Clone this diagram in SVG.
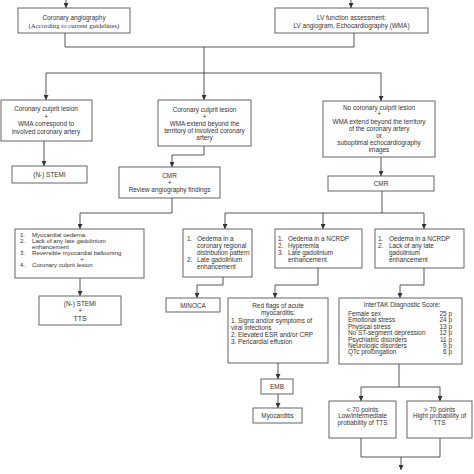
<svg xmlns="http://www.w3.org/2000/svg" width="474" height="474" viewBox="0 0 474 474">
<defs>
<marker id="ah" markerUnits="userSpaceOnUse" markerWidth="5" markerHeight="5" refX="5" refY="2.5" orient="auto"><path d="M0,0 L5,2.5 L0,5 z" fill="#333"/></marker>
<style>
.b{fill:#fff;stroke:#555;stroke-width:0.9}
.c{fill:none;stroke:#444;stroke-width:0.9}
.a{fill:none;stroke:#444;stroke-width:0.9;marker-end:url(#ah)}
text{font-family:"Liberation Sans",Arial,sans-serif;font-size:6.4px;fill:#333}
.m{text-anchor:middle}
.e{text-anchor:end}
.s{font-family:"Liberation Serif","Times New Roman",serif;font-size:6.8px}
.t{font-size:6.1px}
</style>
</defs>
<rect width="474" height="474" fill="#fff"/>
<g id="connectors">
<path class="a" d="M66,0 V8"/>
<path class="a" d="M351,0 V8"/>
<path class="c" d="M65,33 V47 H354 V33"/>
<path class="c" d="M204,47 V73"/>
<path class="c" d="M46,73 H381"/>
<path class="a" d="M46,73 V100"/>
<path class="a" d="M204,73 V100"/>
<path class="a" d="M381,73 V101"/>
<path class="a" d="M44,141 V166"/>
<path class="a" d="M204,146 V155 H172 V167"/>
<path class="a" d="M381,157 V176"/>
<path class="a" d="M172,198 V213 H80 V229"/>
<path class="c" d="M382,191 V213"/>
<path class="c" d="M225,213 H424"/>
<path class="a" d="M225,213 V229"/>
<path class="a" d="M323,213 V229"/>
<path class="a" d="M424,213 V229"/>
<path class="a" d="M80,278 V296"/>
<path class="a" d="M223,277 V285 H197 V298"/>
<path class="a" d="M318,268 V285 H275 V298"/>
<path class="a" d="M424,268 V285 H400 V298"/>
<path class="a" d="M278,363 V379"/>
<path class="a" d="M278,394 V408"/>
<path class="c" d="M399,364 V387"/>
<path class="c" d="M361,387 H440"/>
<path class="a" d="M361,387 V401"/>
<path class="a" d="M440,387 V401"/>
<path class="c" d="M361,438 V457 H440 V438"/>
<path class="a" d="M401,457 V470"/>
</g>
<g id="n1"><rect class="b" x="18" y="8" width="112" height="25"/>
<text class="m" x="74" y="19.5">Coronary angiography</text>
<text class="m s" x="74" y="27.5">(According to current guidelines)</text></g>
<g id="n2"><rect class="b" x="275" y="8" width="153" height="25"/>
<text class="m" x="351.5" y="19.5">LV function assessment:</text>
<text class="m" x="351.5" y="27.5">LV angiogram, Echocardiography (WMA)</text></g>
<g id="n3"><rect class="b" x="1" y="100" width="91" height="41"/>
<text class="m" x="46" y="111">Coronary culprit lesion</text>
<text class="m" x="46" y="118.5">+</text>
<text class="m" x="46" y="126">WMA correspond to</text>
<text class="m" x="46" y="134">involved coronary artery</text></g>
<g id="n4"><rect class="b" x="158" y="100" width="93" height="46"/>
<text class="m" x="204.5" y="111.5">Coronary culprit lesion</text>
<text class="m" x="204.5" y="119">+</text>
<text class="m" x="204.5" y="125.5">WMA extend beyond the</text>
<text class="m" x="204.5" y="132.5">territory of involved coronary</text>
<text class="m" x="204.5" y="139.5">artery</text></g>
<g id="n5"><rect class="b" x="323" y="101" width="112" height="56"/>
<text class="m" x="379" y="109.5">No coronary culprit lesion</text>
<text class="m" x="379" y="116">+</text>
<text class="m" x="379" y="124">WMA extend beyond the territory</text>
<text class="m" x="379" y="130.5">of the coronary artery</text>
<text class="m" x="379" y="138">or</text>
<text class="m" x="379" y="145">suboptimal echocardiography</text>
<text class="m" x="379" y="152">images</text></g>
<g id="n6"><rect class="b" x="12" y="166" width="75" height="17"/>
<text class="m" x="49.5" y="177">(N-) STEMI</text></g>
<g id="n7"><rect class="b" x="119" y="167" width="101" height="31"/>
<text class="m" x="169.5" y="178">CMR</text>
<text class="m" x="169.5" y="185">+</text>
<text class="m" x="169.5" y="191.5">Review angiography findings</text></g>
<g id="n8"><rect class="b" x="328" y="176" width="106" height="15"/>
<text class="m" x="381" y="186">CMR</text></g>
<g id="n9"><rect class="b" x="15" y="229" width="129" height="49"/>
<text class="t" x="20" y="236.5">1.</text><text class="t" x="32" y="236.5">Myocardial oedema</text>
<text class="t" x="20" y="242.8">2.</text><text class="t" x="32" y="242.8">Lack of any late gadolinium</text>
<text class="t" x="32" y="249">enhancement</text>
<text class="t" x="20" y="255.2">3.</text><text class="t" x="32" y="255.2">Reversible myocardial ballooning</text>
<text class="m t" x="82" y="261">+</text>
<text class="t" x="20" y="267.2">4.</text><text class="t" x="32" y="267.2">Coronary culprit lesion</text></g>
<g id="n10"><rect class="b" x="183" y="229" width="69" height="48"/>
<text x="187" y="241">1.</text><text x="197" y="241">Oedema in a</text>
<text x="197" y="248">coronary regional</text>
<text x="197" y="254.5">distribution pattern</text>
<text x="187" y="261.5">2.</text><text x="197" y="261.5">Late gadolinium</text>
<text x="197" y="268.5">enhancement</text></g>
<g id="n11"><rect class="b" x="275" y="229" width="87" height="39"/>
<text x="278" y="240.5">1.</text><text x="288" y="240.5">Oedema in a NCRDP</text>
<text x="278" y="247.5">2.</text><text x="288" y="247.5">Hyperemia</text>
<text x="278" y="254.5">3.</text><text x="288" y="254.5">Late gadolinium</text>
<text x="288" y="261.5">enhancement</text></g>
<g id="n12"><rect class="b" x="375" y="229" width="89" height="39"/>
<text x="378" y="240.5">1.</text><text x="389" y="240.5">Oedema in a NCRDP</text>
<text x="378" y="247.5">2.</text><text x="389" y="247.5">Lack of any late</text>
<text x="389" y="254.5">gadolinium</text>
<text x="389" y="261.5">enhancement</text></g>
<g id="n13"><rect class="b" x="39" y="296" width="82" height="29"/>
<text class="m" x="80" y="306">(N-) STEMI</text>
<text class="m" x="80" y="313">+</text>
<text class="m" x="80" y="320.5" style="font-size:7px">TTS</text></g>
<g id="n14"><rect class="b" x="166" y="298" width="54" height="14"/>
<text class="m" x="193" y="307.5">MINOCA</text></g>
<g id="n15"><rect class="b" x="228" y="298" width="100" height="65"/>
<text class="m" x="278" y="307.5">Red flags of acute</text>
<text class="m" x="278" y="314.5">myocarditis:</text>
<text x="231" y="322.5">1. Signs and/or symptoms of</text>
<text x="231" y="329.5">viral infections</text>
<text x="231" y="337">2. Elevated ESR and/or CRP</text>
<text x="231" y="344">3. Pericardial effusion</text></g>
<g id="n16"><rect class="b" x="339" y="298" width="123" height="66"/>
<text class="m" x="402" y="307">InterTAK Diagnostic Score:</text>
<text x="348" y="316">Female sex</text><text class="e" x="452" y="316">25 p</text>
<text x="348" y="322.4">Emotional stress</text><text class="e" x="452" y="322.4">24 p</text>
<text x="348" y="328.8">Physical stress</text><text class="e" x="452" y="328.8">13 p</text>
<text x="348" y="335.2">No ST-segment depression</text><text class="e" x="452" y="335.2">12 p</text>
<text x="348" y="341.6">Psychiatric disorders</text><text class="e" x="452" y="341.6">11 p</text>
<text x="348" y="348">Neurologic disorders</text><text class="e" x="452" y="348">9 p</text>
<text x="348" y="354.4">QTc prolongation</text><text class="e" x="452" y="354.4">6 p</text></g>
<g id="n17"><rect class="b" x="261" y="379" width="32" height="15"/>
<text class="m" x="277" y="389">EMB</text></g>
<g id="n18"><rect class="b" x="253" y="408" width="49" height="15"/>
<text class="m" x="277.5" y="418">Myocarditis</text></g>
<g id="n19"><rect class="b" x="329" y="401" width="67" height="37"/>
<text class="m" x="362.5" y="411.5">&lt; 70 points</text>
<text class="m" x="362.5" y="418">Low/intermediate</text>
<text class="m" x="362.5" y="424.5">probability of TTS</text></g>
<g id="n20"><rect class="b" x="407" y="401" width="65" height="37"/>
<text class="m" x="439.5" y="411.5">&gt; 70 points</text>
<text class="m" x="439.5" y="418">Hight probability of</text>
<text class="m" x="439.5" y="424.5">TTS</text></g>
</svg>
